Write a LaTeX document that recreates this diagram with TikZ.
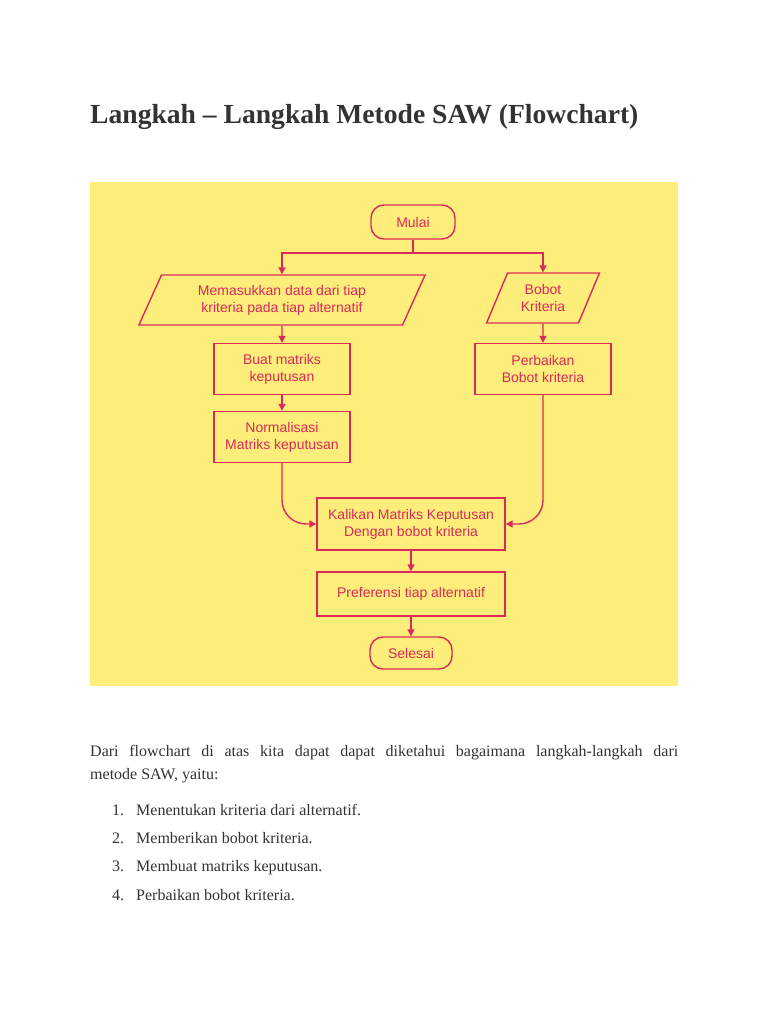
\documentclass[tikz,border=0pt]{standalone}
\usepackage{fontspec}
\setmainfont{Liberation Serif}
\newfontfamily\flowfont{Liberation Sans}
\usetikzlibrary{shapes.geometric,arrows.meta}
\definecolor{bgyellow}{RGB}{253,237,122}
\definecolor{flowred}{RGB}{218,42,92}
\definecolor{textgray}{RGB}{51,51,51}
\tikzset{
  term/.style={draw=flowred, line width=1.4pt, rounded corners=13pt, minimum width=84pt, minimum height=34pt, text=flowred, font=\flowfont\fontsize{14}{17}\selectfont},
  proc/.style={draw=flowred, line width=1.4pt, rectangle, minimum width=136pt, minimum height=51pt, align=center, text=flowred, font=\flowfont\fontsize{14}{17}\selectfont},
  io/.style={draw=flowred, line width=1.4pt, trapezium, trapezium left angle=66, trapezium right angle=114, trapezium stretches=true, minimum height=50pt, align=center, text=flowred, font=\flowfont\fontsize{14}{17}\selectfont},
  link/.style={draw=flowred, line width=1.4pt, -{Triangle[length=7pt,width=7pt]}},
  body/.style={text=textgray, inner sep=0pt, font=\fontsize{16}{23}\selectfont}
}
\begin{document}
\begin{tikzpicture}[x=1pt,y=-1pt]
  \useasboundingbox (0,0) rectangle (768,1024);
  \fill[white] (0,0) rectangle (768,1024);
  % title
  \node[anchor=base west, inner sep=0pt, text=textgray, font=\bfseries\fontsize{27.6}{32}\selectfont] (title) at (90,124) {Langkah -- Langkah Metode SAW (Flowchart)};
  % flowchart panel
  \fill[bgyellow] (90,182) rectangle (678,686);
  \node[term] (mulai) at (413,222) {Mulai};
  \coordinate (split) at (413,253);
  \node[io, minimum width=287pt] (input) at (282,300) {Memasukkan data dari tiap\\kriteria pada tiap alternatif};
  \node[io, minimum width=113pt] (bobot) at (543,298) {Bobot\\Kriteria};
  \node[proc] (buat) at (282,369) {Buat matriks\\keputusan};
  \node[proc] (perbaikan) at (543,369) {Perbaikan\\Bobot kriteria};
  \node[proc] (norm) at (282,437) {Normalisasi\\Matriks keputusan};
  \node[proc, minimum width=188pt, minimum height=52pt] (kalikan) at (411,524) {Kalikan Matriks Keputusan\\Dengan bobot kriteria};
  \node[proc, minimum width=188pt, minimum height=44pt] (pref) at (411,594) {Preferensi tiap alternatif};
  \node[term, minimum width=82pt, minimum height=32pt] (selesai) at (411,653) {Selesai};
  \draw[flowred, line width=1.4pt] (mulai) -- (split);
  \draw[link] (split) -| (input.north);
  \draw[link] (split) -| (bobot.north);
  \draw[link] (input) -- (buat);
  \draw[link] (buat) -- (norm);
  \draw[link] (bobot) -- (perbaikan);
  \draw[link, rounded corners=24pt] (norm.south) |- (kalikan.west);
  \draw[link, rounded corners=24pt] (perbaikan.south) |- (kalikan.east);
  \draw[link] (kalikan) -- (pref);
  \draw[link] (pref) -- (selesai);
  % text below
  \node[body, anchor=base west, text width=588pt, align=justify] (intro) at (90,756) {Dari flowchart di atas kita dapat dapat diketahui bagaimana langkah-langkah dari\linebreak metode SAW, yaitu:};
  \foreach \n/\y/\t in {1/815/{Menentukan kriteria dari alternatif.}, 2/843/{Memberikan bobot kriteria.}, 3/871/{Membuat matriks keputusan.}, 4/900/{Perbaikan bobot kriteria.}} {
    \node[body, anchor=base west] (num\n) at (112,\y) {\n.};
    \node[body, anchor=base west] (item\n) at (136,\y) {\t};
  }
\end{tikzpicture}
\end{document}
